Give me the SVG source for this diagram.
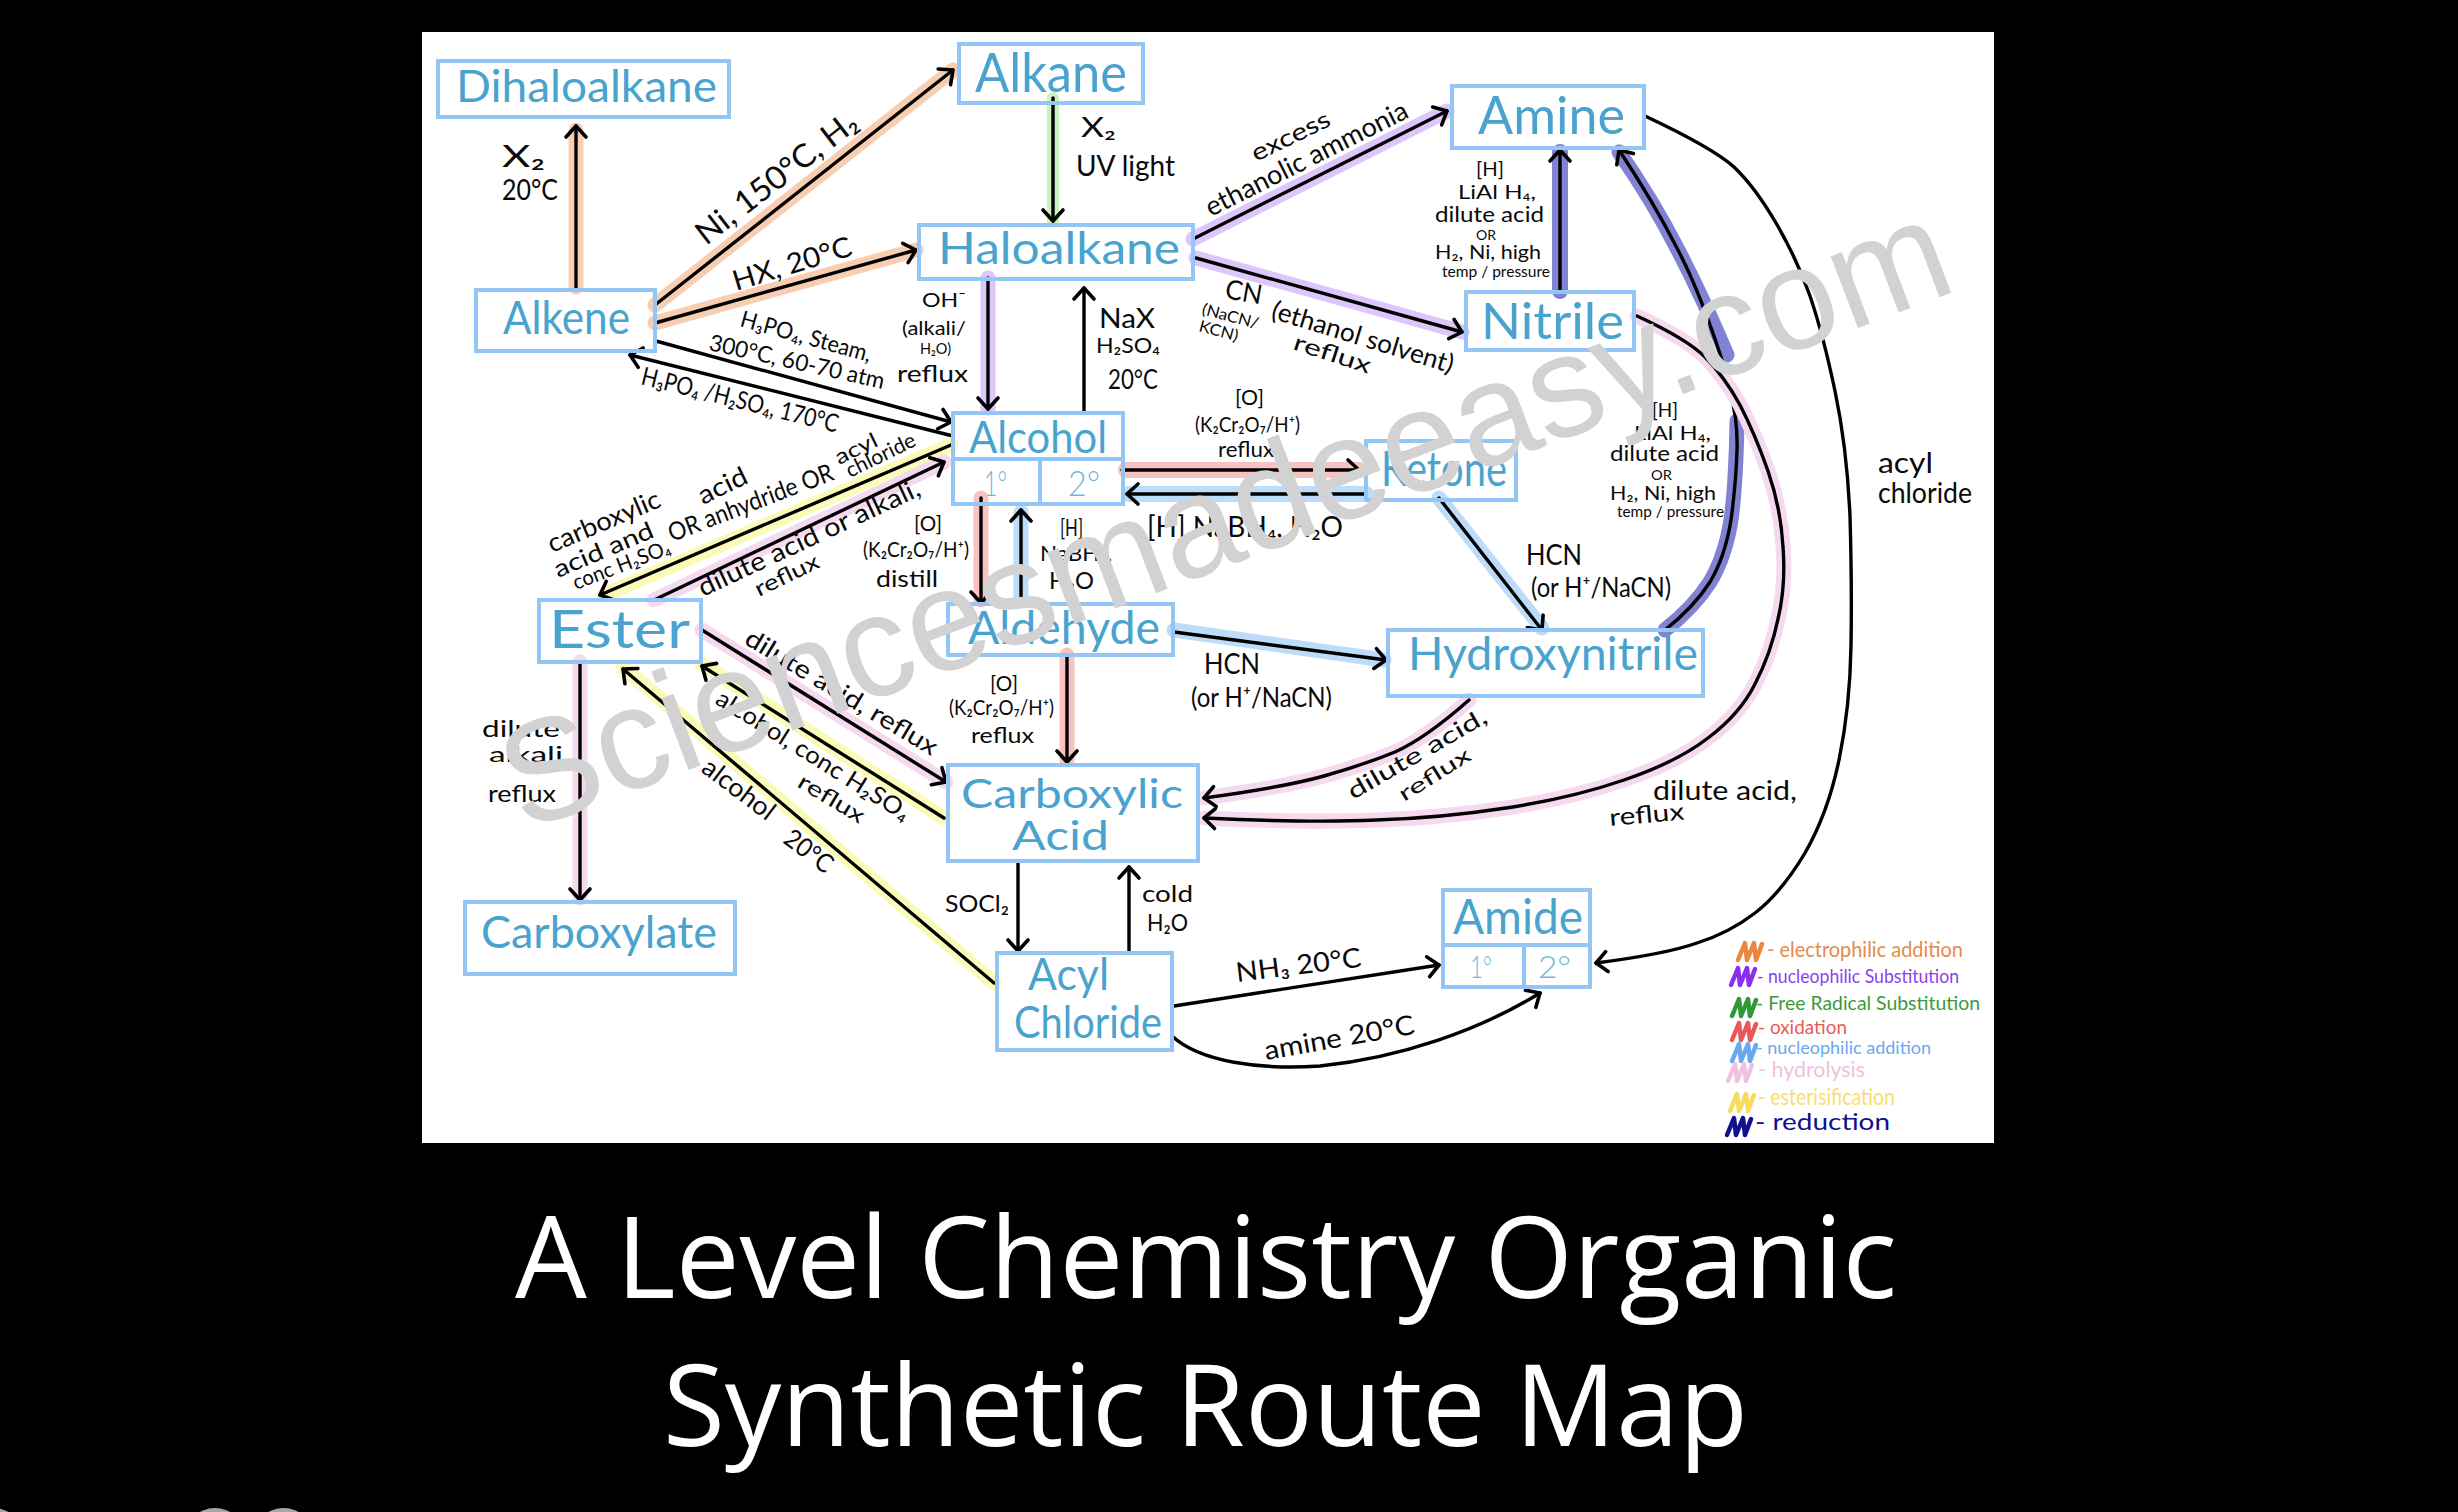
<svg xmlns="http://www.w3.org/2000/svg" width="2458" height="1512" viewBox="0 0 2458 1512">
<style>
text{font-family:"Lato","Noto Sans","DejaVu Sans",sans-serif}
.box{fill:none;stroke:#93c5f5;stroke-width:4}
.n{fill:#4aa3cf;font-weight:400}
.n2{fill:#6fb6da;font-weight:300}
.t{fill:#0a0a0a}
.h{fill:none;stroke-width:15;stroke-linecap:round;stroke-linejoin:round}
.or{stroke:#f8ceb2}.pu{stroke:#dcc6fa}.gr{stroke:#c9f3ba}.re{stroke:#f8c2c0}.bl{stroke:#bcdcfa}.pi{stroke:#f5d9ef}.ye{stroke:#fbfbb9}.du{stroke:#8282d2}
.l{fill:none;stroke:#000;stroke-width:3.4;stroke-linecap:round;stroke-linejoin:round}
.a{marker-end:url(#arrow)}
.sc{fill:none;stroke-width:4.5;stroke-linejoin:round;stroke-linecap:round}
</style>
<defs>
<marker id="arrow" markerUnits="userSpaceOnUse" markerWidth="40" markerHeight="40" refX="20" refY="20" orient="auto" overflow="visible">
<path d="M9,10 L20,20 L9,30" fill="none" stroke="#000" stroke-width="3.6" stroke-linecap="round" stroke-linejoin="round"/>
</marker>
<path id="zz" d="M0,17 L7,0 L9,17 L16,0 L18,17 L24,1"/>
</defs>
<rect width="2458" height="1512" fill="#000"/>
<rect x="422" y="32" width="1572" height="1111" fill="#fff"/>

<g id="connectors">
<path class="h or" d="M576,287V130"/><path class="l a" d="M576,287V126"/>
<path class="h or" d="M655,305L953,70"/><path class="l a" d="M655,305L953,70"/>
<path class="h or" d="M655,323L916,250"/><path class="l a" d="M655,323L916,250"/>
<path class="l a" d="M656,341L951,422"/>
<path class="l a" d="M953,436L630,355"/>
<path class="h gr" d="M1053,98V221" style="stroke-width:12"/><path class="l a" d="M1053,98V221"/>
<path class="h pu" d="M988,278V408"/><path class="l a" d="M988,278V409"/>
<path class="l a" d="M1084,411V288"/>
<path class="h pu" d="M1193,239L1447,111"/><path class="l a" d="M1193,239L1447,111"/>
<path class="h pu" d="M1196,258L1462,332"/><path class="l a" d="M1196,258L1462,332"/>
<path class="h du" d="M1560,291V152" style="stroke-width:16"/><path class="l a" d="M1560,291V150"/>
<path class="h du" d="M1619,152Q1653,201 1678,250Q1703,298 1727,355"/>
<path class="l a" d="M1727,376Q1703,298 1678,250Q1653,201 1619,150"/>
<path class="h du" d="M1665,630Q1694,607 1710,582Q1725,557 1731,520Q1736,483 1737,421"/>
<path class="l" d="M1665,630Q1694,607 1710,582Q1725,557 1731,520Q1736,483 1737,450Q1738,420 1730,392"/>
<path class="h pi" d="M1637,316Q1687,339 1705,357Q1724,376 1740,405Q1755,434 1768,471Q1781,509 1783,547Q1786,585 1778,619Q1771,653 1755,684Q1740,714 1708,738Q1677,762 1624,780Q1572,798 1506,808Q1441,818 1376,820Q1311,823 1204,818"/>
<path class="l a" d="M1637,316Q1687,339 1705,357Q1724,376 1740,405Q1755,434 1768,471Q1781,509 1783,547Q1786,585 1778,619Q1771,653 1755,684Q1740,714 1708,738Q1677,762 1624,780Q1572,798 1506,808Q1441,818 1376,820Q1311,823 1204,818"/>
<path class="h pi" d="M1469,700Q1426,738 1395,752Q1363,765 1324,776Q1285,787 1204,798"/>
<path class="l a" d="M1469,700Q1426,738 1395,752Q1363,765 1324,776Q1285,787 1204,798"/>
<path class="h bl" d="M1439,498L1542,628"/><path class="l a" d="M1439,498L1542,630"/>
<path class="h bl" d="M1174,630L1384,660"/><path class="l a" d="M1174,632L1386,660"/>
<path class="h re" d="M1126,470H1359" style="stroke-width:16"/><path class="l a" d="M1122,470H1359"/>
<path class="h bl" d="M1366,494H1129" style="stroke-width:16"/><path class="l a" d="M1366,494H1127"/>
<path class="h re" d="M981,498V600"/><path class="l a" d="M981,498V603"/>
<path class="h bl" d="M1021,598V512"/><path class="l a" d="M1021,598V510"/>
<path class="h re" d="M1067,655V760"/><path class="l a" d="M1067,655V762"/>
<path class="h ye" d="M951,445L604,595"/><path class="l a" d="M951,445L600,595"/>
<path class="h pi" d="M654,600L944,462"/><path class="l a" d="M654,600L944,462"/>
<path class="h pi" d="M702,630L946,782"/><path class="l a" d="M702,630L946,782"/>
<path class="h ye" d="M944,818L702,664"/><path class="l a" d="M944,818L702,666"/>
<path class="h ye" d="M994,983L623,667"/><path class="l a" d="M994,983L623,669"/>
<path class="h pi" d="M580,662V898"/><path class="l a" d="M580,662V900"/>
<path class="l a" d="M1018,863V951"/>
<path class="l a" d="M1129,951V867"/>
<path class="l a" d="M1174,1006L1439,965"/>
<path class="l a" d="M1172,1036C1200,1062 1260,1070 1320,1066C1400,1058 1480,1030 1540,993"/>
<path class="l a" d="M1645,116Q1713,148 1734,167Q1755,187 1776,223Q1797,259 1810,296Q1823,334 1835,391Q1847,448 1850,516Q1852,585 1851,646Q1850,707 1839,760Q1828,813 1805,853Q1781,893 1755,913Q1729,933 1697,943Q1666,954 1596,963"/>
</g>

<g id="dihaloalkane"><rect class="box" x="438" y="61" width="291" height="56"/><text class="n" x="456" y="102" font-size="44" textLength="261" lengthAdjust="spacingAndGlyphs">Dihaloalkane</text></g>
<g id="alkane"><rect class="box" x="959" y="44" width="184" height="59"/><text class="n" x="975" y="92" font-size="54" textLength="152" lengthAdjust="spacingAndGlyphs">Alkane</text></g>
<g id="haloalkane"><rect class="box" x="919" y="225" width="274" height="54"/><text class="n" x="938" y="264" font-size="45" textLength="242" lengthAdjust="spacingAndGlyphs">Haloalkane</text></g>
<g id="alkene"><rect class="box" x="476" y="290" width="179" height="61"/><text class="n" x="503" y="334" font-size="47" textLength="127" lengthAdjust="spacingAndGlyphs">Alkene</text></g>
<g id="alcohol"><rect class="box" x="953" y="413" width="170" height="91"/><path class="box" d="M953,459H1123M1040,459V504"/><text class="n" x="969" y="453" font-size="44" textLength="138" lengthAdjust="spacingAndGlyphs">Alcohol</text><text class="n2" x="984" y="496" font-size="36" textLength="23" lengthAdjust="spacingAndGlyphs">1°</text><text class="n2" x="1068" y="496" font-size="36" textLength="32" lengthAdjust="spacingAndGlyphs">2°</text></g>
<g id="amine"><rect class="box" x="1452" y="86" width="192" height="62"/><text class="n" x="1478" y="134" font-size="52" textLength="147" lengthAdjust="spacingAndGlyphs">Amine</text></g>
<g id="nitrile"><rect class="box" x="1466" y="292" width="168" height="58"/><text class="n" x="1481" y="339" font-size="50" textLength="143" lengthAdjust="spacingAndGlyphs">Nitrile</text></g>
<g id="ketone"><rect class="box" x="1366" y="441" width="150" height="59"/><text class="n" x="1381" y="486" font-size="48" textLength="126" lengthAdjust="spacingAndGlyphs">Ketone</text></g>
<g id="ester"><rect class="box" x="539" y="600" width="162" height="62"/><text class="n" x="549" y="648" font-size="52" textLength="141" lengthAdjust="spacingAndGlyphs">Ester</text></g>
<g id="aldehyde"><rect class="box" x="948" y="604" width="225" height="51"/><text class="n" x="968" y="644" font-size="46" textLength="192" lengthAdjust="spacingAndGlyphs">Aldehyde</text></g>
<g id="carboxylic-acid"><rect class="box" x="948" y="765" width="250" height="96"/><text class="n" x="961" y="808" font-size="40" textLength="222" lengthAdjust="spacingAndGlyphs">Carboxylic</text><text class="n" x="1012" y="850" font-size="40" textLength="97" lengthAdjust="spacingAndGlyphs">Acid</text></g>
<g id="carboxylate"><rect class="box" x="465" y="902" width="270" height="72"/><text class="n" x="481" y="948" font-size="44" textLength="236" lengthAdjust="spacingAndGlyphs">Carboxylate</text></g>
<g id="acyl-chloride"><rect class="box" x="997" y="953" width="175" height="97"/><text class="n" x="1028" y="990" font-size="44" textLength="81" lengthAdjust="spacingAndGlyphs">Acyl</text><text class="n" x="1014" y="1038" font-size="44" textLength="148" lengthAdjust="spacingAndGlyphs">Chloride</text></g>
<g id="hydroxynitrile"><rect class="box" x="1388" y="630" width="315" height="66"/><text class="n" x="1408" y="670" font-size="47" textLength="290" lengthAdjust="spacingAndGlyphs">Hydroxynitrile</text></g>
<g id="amide"><rect class="box" x="1443" y="890" width="147" height="97"/><path class="box" d="M1443,945H1590M1524,945V987"/><text class="n" x="1453" y="934" font-size="49" textLength="130" lengthAdjust="spacingAndGlyphs">Amide</text><text class="n2" x="1470" y="978" font-size="32" textLength="22" lengthAdjust="spacingAndGlyphs">1°</text><text class="n2" x="1538" y="978" font-size="32" textLength="33" lengthAdjust="spacingAndGlyphs">2°</text></g>

<g id="labels" class="t">
<text x="502" y="167" font-size="30" textLength="43" lengthAdjust="spacingAndGlyphs">X₂</text>
<text x="502" y="200" font-size="28" textLength="56" lengthAdjust="spacingAndGlyphs">20°C</text>
<text transform="translate(706,246) rotate(-37.7)" font-size="32" textLength="195" lengthAdjust="spacingAndGlyphs">Ni, 150°C, H₂</text>
<text transform="translate(736,291) rotate(-17)" font-size="28" textLength="123" lengthAdjust="spacingAndGlyphs">HX, 20°C</text>
<text transform="translate(739,326) rotate(15.5)" font-size="23" textLength="135" lengthAdjust="spacingAndGlyphs">H₃PO₄, Steam,</text>
<text transform="translate(708,350) rotate(12.6)" font-size="23" textLength="179" lengthAdjust="spacingAndGlyphs">300°C, 60-70 atm</text>
<text transform="translate(640,384) rotate(13.9)" font-size="25" textLength="202" lengthAdjust="spacingAndGlyphs">H₃PO₄ /H₂SO₄, 170°C</text>
<text x="922" y="307" font-size="20" textLength="44" lengthAdjust="spacingAndGlyphs">OH⁻</text>
<text x="902" y="335" font-size="20" textLength="64" lengthAdjust="spacingAndGlyphs">(alkali/</text>
<text x="920" y="354" font-size="16" textLength="31" lengthAdjust="spacingAndGlyphs">H₂O)</text>
<text x="897" y="382" font-size="24" textLength="71" lengthAdjust="spacingAndGlyphs">reflux</text>
<text x="1099" y="328" font-size="26" textLength="56" lengthAdjust="spacingAndGlyphs">NaX</text>
<text x="1096" y="353" font-size="22" textLength="64" lengthAdjust="spacingAndGlyphs">H₂SO₄</text>
<text x="1108" y="389" font-size="26" textLength="50" lengthAdjust="spacingAndGlyphs">20°C</text>
<text x="1081" y="137" font-size="26" textLength="35" lengthAdjust="spacingAndGlyphs">X₂</text>
<text x="1076" y="176" font-size="28" textLength="99" lengthAdjust="spacingAndGlyphs">UV light</text>
<text transform="translate(1256,162) rotate(-26)" font-size="24" textLength="85" lengthAdjust="spacingAndGlyphs">excess</text>
<text transform="translate(1211,217) rotate(-26.7)" font-size="27" textLength="223" lengthAdjust="spacingAndGlyphs">ethanolic ammonia</text>
<text x="1476" y="176" font-size="20" textLength="28" lengthAdjust="spacingAndGlyphs">[H]</text>
<text x="1458" y="199" font-size="20" textLength="78" lengthAdjust="spacingAndGlyphs">LiAl H₄,</text>
<text x="1435" y="222" font-size="21" textLength="109" lengthAdjust="spacingAndGlyphs">dilute acid</text>
<text x="1476" y="240" font-size="13" textLength="20" lengthAdjust="spacingAndGlyphs">OR</text>
<text x="1435" y="259" font-size="19" textLength="106" lengthAdjust="spacingAndGlyphs">H₂, Ni, high</text>
<text x="1442" y="277" font-size="16" textLength="108" lengthAdjust="spacingAndGlyphs">temp / pressure</text>
<text transform="translate(1224,298) rotate(10)" font-size="27" textLength="37" lengthAdjust="spacingAndGlyphs">CN</text>
<text transform="translate(1201,314) rotate(15)" font-size="16" textLength="58" lengthAdjust="spacingAndGlyphs">(NaCN/</text>
<text transform="translate(1198,331) rotate(15)" font-size="16" textLength="40" lengthAdjust="spacingAndGlyphs">KCN)</text>
<text transform="translate(1270,318) rotate(17)" font-size="26" textLength="189" lengthAdjust="spacingAndGlyphs">(ethanol solvent)</text>
<text transform="translate(1292,349) rotate(18)" font-size="23" textLength="80" lengthAdjust="spacingAndGlyphs">reflux</text>
<text x="1235" y="405" font-size="22" textLength="29" lengthAdjust="spacingAndGlyphs">[O]</text>
<text x="1195" y="432" font-size="21" textLength="105" lengthAdjust="spacingAndGlyphs">(K₂Cr₂O₇/H⁺)</text>
<text x="1218" y="457" font-size="22" textLength="56" lengthAdjust="spacingAndGlyphs">reflux</text>
<text x="1147" y="537" font-size="28" textLength="196" lengthAdjust="spacingAndGlyphs">[H] NaBH₄, H₂O</text>
<text x="1526" y="565" font-size="28" textLength="56" lengthAdjust="spacingAndGlyphs">HCN</text>
<text x="1531" y="597" font-size="26" textLength="140" lengthAdjust="spacingAndGlyphs">(or H⁺/NaCN)</text>
<text x="1652" y="417" font-size="20" textLength="26" lengthAdjust="spacingAndGlyphs">[H]</text>
<text x="1634" y="440" font-size="20" textLength="77" lengthAdjust="spacingAndGlyphs">LiAl H₄,</text>
<text x="1610" y="461" font-size="21" textLength="109" lengthAdjust="spacingAndGlyphs">dilute acid</text>
<text x="1651" y="480" font-size="13" textLength="21" lengthAdjust="spacingAndGlyphs">OR</text>
<text x="1610" y="500" font-size="19" textLength="106" lengthAdjust="spacingAndGlyphs">H₂, Ni, high</text>
<text x="1617" y="517" font-size="16" textLength="107" lengthAdjust="spacingAndGlyphs">temp / pressure</text>
<text x="1878" y="473" font-size="28" textLength="55" lengthAdjust="spacingAndGlyphs">acyl</text>
<text x="1878" y="503" font-size="28" textLength="94" lengthAdjust="spacingAndGlyphs">chloride</text>
<text transform="translate(552,553) rotate(-23)" font-size="26" textLength="120" lengthAdjust="spacingAndGlyphs">carboxylic</text>
<text transform="translate(703,505) rotate(-26)" font-size="26" textLength="52" lengthAdjust="spacingAndGlyphs">acid</text>
<text transform="translate(558,578) rotate(-23)" font-size="24" textLength="106" lengthAdjust="spacingAndGlyphs">acid and</text>
<text transform="translate(576,590) rotate(-21)" font-size="21" textLength="103" lengthAdjust="spacingAndGlyphs">conc H₂SO₄</text>
<text transform="translate(672,542) rotate(-21)" font-size="25" textLength="175" lengthAdjust="spacingAndGlyphs">OR anhydride OR</text>
<text transform="translate(839,465) rotate(-26)" font-size="21" textLength="45" lengthAdjust="spacingAndGlyphs">acyl</text>
<text transform="translate(850,478) rotate(-26)" font-size="21" textLength="75" lengthAdjust="spacingAndGlyphs">chloride</text>
<text transform="translate(703,597) rotate(-25)" font-size="26" textLength="242" lengthAdjust="spacingAndGlyphs">dilute acid or alkali,</text>
<text transform="translate(759,597) rotate(-26)" font-size="22" textLength="69" lengthAdjust="spacingAndGlyphs">reflux</text>
<text x="914" y="531" font-size="22" textLength="28" lengthAdjust="spacingAndGlyphs">[O]</text>
<text x="863" y="557" font-size="21" textLength="106" lengthAdjust="spacingAndGlyphs">(K₂Cr₂O₇/H⁺)</text>
<text x="876" y="587" font-size="24" textLength="62" lengthAdjust="spacingAndGlyphs">distill</text>
<text x="1060" y="536" font-size="24" textLength="23" lengthAdjust="spacingAndGlyphs">[H]</text>
<text x="1040" y="561" font-size="22" textLength="72" lengthAdjust="spacingAndGlyphs">NaBH₄,</text>
<text x="1049" y="589" font-size="24" textLength="45" lengthAdjust="spacingAndGlyphs">H₂O</text>
<text transform="translate(743,643) rotate(31)" font-size="25" textLength="220" lengthAdjust="spacingAndGlyphs">dilute acid, reflux</text>
<text transform="translate(714,703) rotate(32)" font-size="24" textLength="224" lengthAdjust="spacingAndGlyphs">alcohol, conc H₂SO₄</text>
<text transform="translate(796,786) rotate(31)" font-size="22" textLength="74" lengthAdjust="spacingAndGlyphs">reflux</text>
<text transform="translate(700,771) rotate(37)" font-size="26" textLength="84" lengthAdjust="spacingAndGlyphs">alcohol</text>
<text transform="translate(782,842) rotate(37)" font-size="26" textLength="54" lengthAdjust="spacingAndGlyphs">20°C</text>
<text x="482" y="737" font-size="24" textLength="78" lengthAdjust="spacingAndGlyphs">dilute</text>
<text x="489" y="762" font-size="22" textLength="74" lengthAdjust="spacingAndGlyphs">alkali</text>
<text x="488" y="802" font-size="24" textLength="68" lengthAdjust="spacingAndGlyphs">reflux</text>
<text x="990" y="691" font-size="22" textLength="28" lengthAdjust="spacingAndGlyphs">[O]</text>
<text x="949" y="715" font-size="21" textLength="105" lengthAdjust="spacingAndGlyphs">(K₂Cr₂O₇/H⁺)</text>
<text x="971" y="743" font-size="22" textLength="63" lengthAdjust="spacingAndGlyphs">reflux</text>
<text x="1204" y="674" font-size="28" textLength="56" lengthAdjust="spacingAndGlyphs">HCN</text>
<text x="1191" y="707" font-size="26" textLength="141" lengthAdjust="spacingAndGlyphs">(or H⁺/NaCN)</text>
<text transform="translate(1353,800) rotate(-30)" font-size="23" textLength="157" lengthAdjust="spacingAndGlyphs">dilute acid,</text>
<text transform="translate(1404,802) rotate(-32)" font-size="21" textLength="81" lengthAdjust="spacingAndGlyphs">reflux</text>
<text x="1653" y="800" font-size="26" textLength="144" lengthAdjust="spacingAndGlyphs">dilute acid,</text>
<text transform="translate(1610,826) rotate(-5)" font-size="24" textLength="75" lengthAdjust="spacingAndGlyphs">reflux</text>
<text x="945" y="912" font-size="24" textLength="64" lengthAdjust="spacingAndGlyphs">SOCl₂</text>
<text x="1142" y="902" font-size="24" textLength="51" lengthAdjust="spacingAndGlyphs">cold</text>
<text x="1147" y="931" font-size="24" textLength="41" lengthAdjust="spacingAndGlyphs">H₂O</text>
<text transform="translate(1237,982) rotate(-7)" font-size="27" textLength="126" lengthAdjust="spacingAndGlyphs">NH₃ 20°C</text>
<text transform="translate(1266,1060) rotate(-10)" font-size="27" textLength="152" lengthAdjust="spacingAndGlyphs">amine 20°C</text>
</g>

<g id="legend" font-size="19">
<use href="#zz" class="sc" x="1738" y="943" stroke="#e8873f"/><text x="1767" y="957" fill="#e58a4c" font-size="21" textLength="196" lengthAdjust="spacingAndGlyphs">- electrophilic addition</text>
<use href="#zz" class="sc" x="1731" y="968" stroke="#8a2ff0"/><text x="1757" y="983" fill="#8a3ff0" textLength="202" lengthAdjust="spacingAndGlyphs">- nucleophilic Substitution</text>
<use href="#zz" class="sc" x="1732" y="999" stroke="#2f9a35"/><text x="1756" y="1010" fill="#3a9a3a" textLength="224" lengthAdjust="spacingAndGlyphs">- Free Radical Substitution</text>
<use href="#zz" class="sc" x="1732" y="1023" stroke="#e85a5a"/><text x="1758" y="1034" fill="#e85a5a" textLength="89" lengthAdjust="spacingAndGlyphs">- oxidation</text>
<use href="#zz" class="sc" x="1732" y="1044" stroke="#6aa8f0"/><text x="1756" y="1054" fill="#6aa8f0" font-size="18" textLength="175" lengthAdjust="spacingAndGlyphs">- nucleophilic addition</text>
<use href="#zz" class="sc" x="1728" y="1064" stroke="#f0c2e2"/><text x="1758" y="1077" fill="#f0c0e0" font-size="22" textLength="107" lengthAdjust="spacingAndGlyphs">- hydrolysis</text>
<use href="#zz" class="sc" x="1730" y="1094" stroke="#f8dc60"/><text x="1758" y="1105" fill="#f6de70" font-size="23" textLength="137" lengthAdjust="spacingAndGlyphs">- esterisification</text>
<use href="#zz" class="sc" x="1727" y="1118" stroke="#101090"/><text x="1755" y="1130" fill="#101090" font-size="23" textLength="135" lengthAdjust="spacingAndGlyphs">- reduction</text>
</g>

<text id="watermark" transform="translate(524,832) rotate(-20.7)" font-size="145" fill="#d2d2d2" style="font-family:'Liberation Sans',Arial,sans-serif" textLength="1535" lengthAdjust="spacingAndGlyphs">Sciencesmadeeasy.com</text>

<g id="title" fill="#fff" font-size="113">
<text x="515" y="1298" style="font-family:'Open Sans','Noto Sans',sans-serif" textLength="1382" lengthAdjust="spacingAndGlyphs">A Level Chemistry Organic</text>
<text x="663" y="1446" style="font-family:'Open Sans','Noto Sans',sans-serif" textLength="1085" lengthAdjust="spacingAndGlyphs">Synthetic Route Map</text>
</g>
<g id="player" fill="#a6a6a6"><circle cx="215" cy="1538" r="30"/><circle cx="283.5" cy="1538" r="30"/><circle cx="-7" cy="1540" r="32"/></g>
</svg>
